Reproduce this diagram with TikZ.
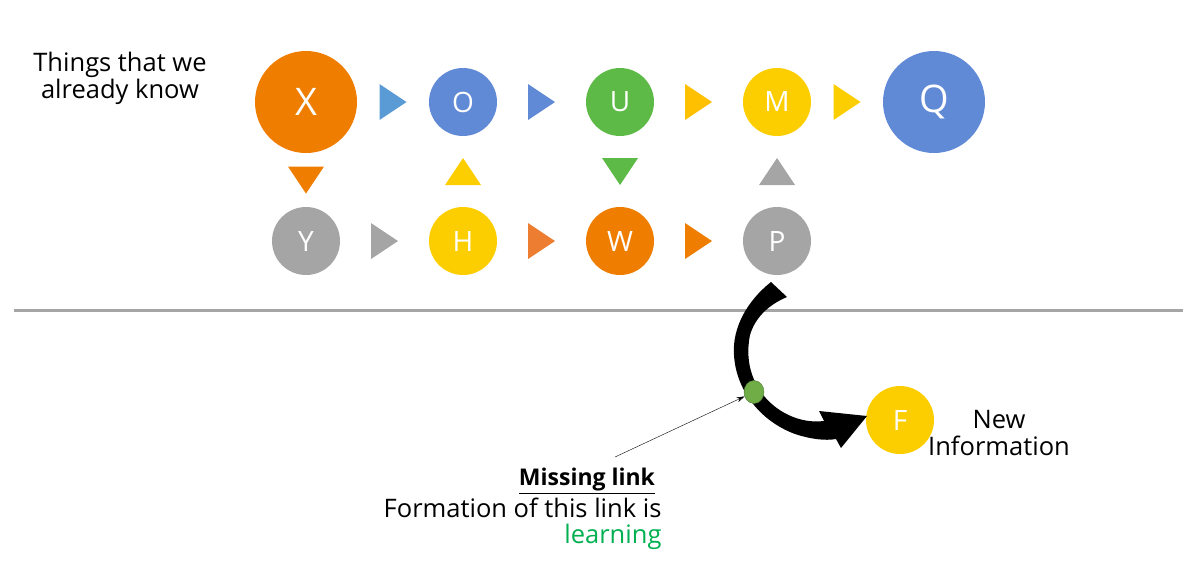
\documentclass[tikz,border=0pt]{standalone}
\usepackage{fontspec}
\setmainfont{Open Sans}
\usepackage{tikz}
\usetikzlibrary{arrows.meta, calc, shapes.geometric}
\definecolor{orng}{RGB}{238,125,0}
\definecolor{blu}{RGB}{96,137,214}
\definecolor{lblu}{RGB}{91,155,213}
\definecolor{grn}{RGB}{94,186,71}
\definecolor{ylw}{RGB}{252,206,0}
\definecolor{gold}{RGB}{255,192,0}
\definecolor{lorng}{RGB}{237,125,49}
\definecolor{gry}{RGB}{165,165,165}
\definecolor{dotgrn}{RGB}{112,173,71}
\definecolor{learn}{RGB}{0,176,80}

\begin{document}
\begin{tikzpicture}[x=1pt, y=-1pt, node distance={157pt},
    main/.style = {circle, minimum size=68pt, inner sep=0pt, text=white, font=\fontsize{28}{28}\selectfont},
    big/.style = {main, minimum size=102pt, font=\fontsize{38}{38}\selectfont},
    note/.style = {align=center, font=\fontsize{25.5}{27}\selectfont},
    pics/tri/.style = {code={\fill[#1] (-13.5,-18) -- (13.5,0) -- (-13.5,18) -- cycle;}}]
    \useasboundingbox (0,0) rectangle (1200,571);

    \node[big, fill=orng] (X) at (306,102) {X};
    \node[main, fill=blu] (O) [right of=X] {O};
    \node[main, fill=grn] (U) [right of=O] {U};
    \node[main, fill=ylw] (M) [right of=U] {M};
    \node[big, fill=blu] (Q) [right of=M] {Q};
    \node[main, fill=gry] (Y) [below of=X, node distance=139pt] {Y};
    \node[main, fill=ylw] (H) [right of=Y] {H};
    \node[main, fill=orng] (W) [right of=H] {W};
    \node[main, fill=gry] (P) [right of=W] {P};
    \node[main, fill=ylw] (F) at (900,420) {F};

    \pic at ($(X.east)!0.5!(O.west)$) {tri=lblu};
    \pic at ($(O.east)!0.5!(U.west)$) {tri=blu};
    \pic at ($(U.east)!0.5!(M.west)$) {tri=gold};
    \pic at ($(M.east)!0.5!(Q.west)$) {tri=ylw};
    \pic at ($(Y.east)!0.5!(H.west)$) {tri=gry};
    \pic at ($(H.east)!0.5!(W.west)$) {tri=lorng};
    \pic at ($(W.east)!0.5!(P.west)$) {tri=orng};
    \pic[rotate=-90] at ($(X.south)!0.5!(Y.north)$) {tri=orng};
    \pic[rotate=90] at ($(O.south)!0.5!(H.north)$) {tri=ylw};
    \pic[rotate=-90] at ($(U.south)!0.5!(W.north)$) {tri=grn};
    \pic[rotate=90] at ($(M.south)!0.5!(P.north)$) {tri=gry};

    \coordinate (l1) at (14,310);
    \coordinate (l2) at (1183,310);
    \draw[gry, line width=3pt] (l1) -- (l2);

    \fill (771,282) .. controls (747,301) and (732,328) .. (734,355)
        .. controls (736,390) and (760,421) .. (795,434)
        .. controls (810,439) and (825,441) .. (836,439)
        -- (841,448) -- (867,416) -- (819,411) -- (824,421)
        .. controls (800,424) and (775,412) .. (761,392)
        .. controls (749,375) and (746,355) .. (750,335)
        .. controls (755,318) and (768,305) .. (787,297) -- cycle;
    \node[ellipse, fill=dotgrn, draw=dotgrn!70!black, minimum width=20pt, minimum height=23pt, inner sep=0pt] (dot) at (754,392) {};

    \node[note] (known) at (120,78) {Things that we\\already know};
    \node[note] (newinfo) at (999,433) {New\\Information};
    \node[note, font=\fontsize{23}{27}\selectfont\bfseries] (miss) at (587,481) {\underline{Missing link}};
    \node[note, anchor=east] (form) at (665,508) {Formation of this link is};
    \node[note, anchor=east, text=learn] (lrn) at (665,537) {learning};

    \coordinate (ml) at (615,457);
    \draw[-{Stealth[length=8pt, width=5pt]}] (ml) -- (dot);
\end{tikzpicture}
\end{document}
